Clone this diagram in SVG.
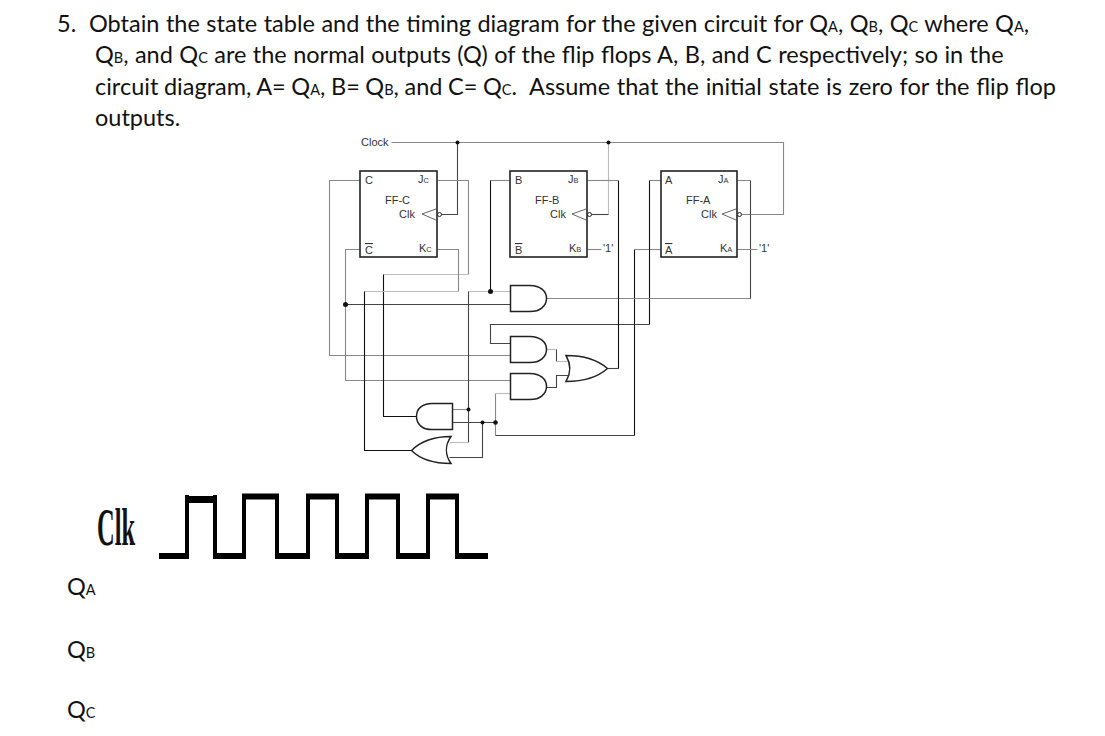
<svg xmlns="http://www.w3.org/2000/svg" width="1105" height="736" viewBox="0 0 1105 736">
<style>
.p{font-family:"Lato","Liberation Sans",sans-serif;font-size:23.5px;fill:#111}
.s{font-size:14.500px}
.c{font-family:"Liberation Sans",Arial,sans-serif;font-size:11px;fill:#333}
.cs{font-size:7.500px}
.w{fill:none;stroke-width:1.1}
.k{stroke:#111}.d{stroke:#444}.g{stroke:#888}.l{stroke:#bbb}
.box{fill:#fff;stroke:#222;stroke-width:1.6}
.gate{fill:#fff;stroke:#222;stroke-width:1.5}
.tri{fill:none;stroke:#666;stroke-width:1}
.dot{fill:#111}
.hi{fill:none;stroke:#000;stroke-width:6}
.up{fill:none;stroke:#000;stroke-width:4}
</style>
<rect width="1105" height="736" fill="#fff"/>
<g id="question">
<text class="p" x="57" y="32">5.</text>
<text class="p" x="89" y="32" word-spacing="0.45">Obtain the state table and the timing diagram for the given circuit for Q<tspan class="s">A</tspan>, Q<tspan class="s">B</tspan>, Q<tspan class="s">C</tspan> where Q<tspan class="s">A</tspan>,</text>
<text class="p" x="95" y="63" word-spacing="0.4">Q<tspan class="s">B</tspan>, and Q<tspan class="s">C</tspan> are the normal outputs (Q) of the flip flops A, B, and C respectively; so in the</text>
<text class="p" x="95" y="95" word-spacing="-0.4">circuit diagram, A= Q<tspan class="s">A</tspan>, B= Q<tspan class="s">B</tspan>, and C= Q<tspan class="s">C</tspan>.</text>
<text class="p" x="529" y="95" word-spacing="0.7">Assume that the initial state is zero for the flip flop</text>
<text class="p" x="95" y="126">outputs.</text>
</g>
<g id="connectors" transform="translate(.5 .5)">
<path class="w g" d="M391 142H783V214H737"/>
<path class="w d" d="M457 142V214H437"/>
<path class="w l" d="M608 142V214"/><path class="w d" d="M608 214H587"/>
<path class="w g" d="M360 180H329V355H510"/>
<path class="w g" d="M360 249H345V380H510"/>
<path class="w d" d="M345 304H510"/>
<path class="w g" d="M437 180H468V274"/><path class="w l" d="M468 274H383"/><path class="w k" d="M383 274V416H416"/>
<path class="w g" d="M437 249H458V291"/><path class="w l" d="M458 291H364"/><path class="w k" d="M364 291V450H411"/>
<path class="w g" d="M510 180H490"/><path class="w k" d="M490 180V291"/>
<path class="w l" d="M510 291H468"/><path class="w d" d="M468 291V442"/><path class="w l" d="M468 442H449"/>
<path class="w g" d="M452 409H468"/>
<path class="w d" d="M452 422H495"/>
<path class="w d" d="M482 422V457H449"/>
<path class="w g" d="M495 393V435"/><path class="w l" d="M495 393H510"/>
<path class="w d" d="M495 435H634"/><path class="w k" d="M634 435V249"/><path class="w g" d="M634 249H661"/>
<path class="w g" d="M661 180H649"/><path class="w k" d="M649 180V324"/><path class="w d" d="M649 324H490V343H510"/>
<path class="w g" d="M546 298H750"/><path class="w d" d="M750 298V180"/><path class="w g" d="M750 180H737"/>
<path class="w d" d="M607 368H618"/><path class="w k" d="M618 368V180"/><path class="w g" d="M618 180H587"/>
<path class="w l" d="M546 349H556"/><path class="w d" d="M556 349V361"/><path class="w l" d="M556 361H568"/>
<path class="w d" d="M546 387H556V375H568"/>
<path class="w g" d="M587 249H601"/>
<path class="w g" d="M737 249H757"/>
<circle class="dot" cx="457" cy="142" r="2"/>
<circle class="dot" cx="608" cy="142" r="2"/>
<circle class="dot" cx="345" cy="304" r="2.500"/>
<circle class="dot" cx="490" cy="291" r="2.500"/>
<circle class="dot" cx="468" cy="409" r="2"/>
<circle class="dot" cx="482" cy="422" r="2"/>
<circle class="dot" cx="495" cy="422" r="2.300"/>
</g>
<text id="clock-label" class="c" x="361" y="146">Clock</text>
<g id="ff-c">
<rect class="box" x="360" y="171" width="77" height="86"/>
<text class="c" x="365" y="184">C</text>
<text class="c" x="418" y="183">J<tspan class="cs">C</tspan></text>
<text class="c" x="385" y="204">FF-C</text>
<text class="c" x="399" y="218">Clk</text>
<path class="tri" d="M436 209L422 214L436 220"/>
<circle cx="439.500" cy="214.500" r="2" fill="#fff" stroke="#222"/>
<text class="c" x="365" y="254"><tspan text-decoration="overline">C</tspan></text>
<text class="c" x="419" y="252">K<tspan class="cs">C</tspan></text>
</g>
<g id="ff-b">
<rect class="box" x="510" y="171" width="77" height="86"/>
<text class="c" x="515" y="184">B</text>
<text class="c" x="568" y="183">J<tspan class="cs">B</tspan></text>
<text class="c" x="535" y="204">FF-B</text>
<text class="c" x="550" y="218">Clk</text>
<path class="tri" d="M586 209L572 214L586 220"/>
<circle cx="589.500" cy="214.500" r="2" fill="#fff" stroke="#222"/>
<text class="c" x="515" y="254"><tspan text-decoration="overline">B</tspan></text>
<text class="c" x="569" y="252">K<tspan class="cs">B</tspan></text>
<text class="c" x="603" y="252">'1'</text>
</g>
<g id="ff-a">
<rect class="box" x="661" y="171" width="76" height="86"/>
<text class="c" x="665" y="184">A</text>
<text class="c" x="718" y="183">J<tspan class="cs">A</tspan></text>
<text class="c" x="686" y="204">FF-A</text>
<text class="c" x="701" y="218">Clk</text>
<path class="tri" d="M736 209L722 214L736 220"/>
<circle cx="739.500" cy="214.500" r="2" fill="#fff" stroke="#222"/>
<text class="c" x="665" y="254"><tspan text-decoration="overline">A</tspan></text>
<text class="c" x="720" y="252">K<tspan class="cs">A</tspan></text>
<text class="c" x="759" y="252">'1'</text>
</g>
<g id="and-1"><path class="gate" d="M510.500 285.500H530C540 285.500 546.500 291 546.500 298.500C546.500 306 540 311.500 530 311.500H510.500Z"/></g>
<g id="and-2"><path class="gate" d="M510.500 336.500H530C540 336.500 546.500 342 546.500 349.500C546.500 357 540 362.500 530 362.500H510.500Z"/></g>
<g id="and-3"><path class="gate" d="M510.500 373.500H530C540 373.500 546.500 379 546.500 386.500C546.500 394 540 399.500 530 399.500H510.500Z"/></g>
<g id="or-1"><path class="gate" d="M566 355.500C586 355.500 599 361 607.500 368.500C599 376 586 381.500 566 381.500C571 373 571 364 566 355.500Z"/></g>
<g id="and-4"><path class="gate" d="M452.500 403.500H432C422 403.500 416.500 409 416.500 416.500C416.500 424 422 429.500 432 429.500H452.500Z"/></g>
<g id="or-2"><path class="gate" d="M451 436.500C431 436.500 419 443 411.500 450.500C419 458 431 463.500 451 463.500C445 455 445 445 451 436.500Z"/></g>
<g id="timing">
<text x="97" y="545" font-family="Liberation Serif,serif" font-weight="bold" font-size="53" textLength="38" lengthAdjust="spacingAndGlyphs" fill="#111">Clk</text>
<path class="hi" d="M159 556H189M213 556H246M275 556H310M335 556H369M396 556H430M455 556H488"/>
<path class="up" d="M187 558V495M215 495V558M244 558V494M277 494V558M308 558V494M337 494V558M367 558V494M398 494V558M428 558V494M457 494V558"/>
<path class="hi" style="stroke-width:7" d="M185 499.500H217"/>
<path class="hi" d="M242 496.500H279M306 496.500H339M365 496.500H400M426 496.500H459"/>
<text class="p" x="67" y="595">Q<tspan class="s">A</tspan></text>
<text class="p" x="67" y="658">Q<tspan class="s">B</tspan></text>
<text class="p" x="67" y="718">Q<tspan class="s">C</tspan></text>
</g>
</svg>
